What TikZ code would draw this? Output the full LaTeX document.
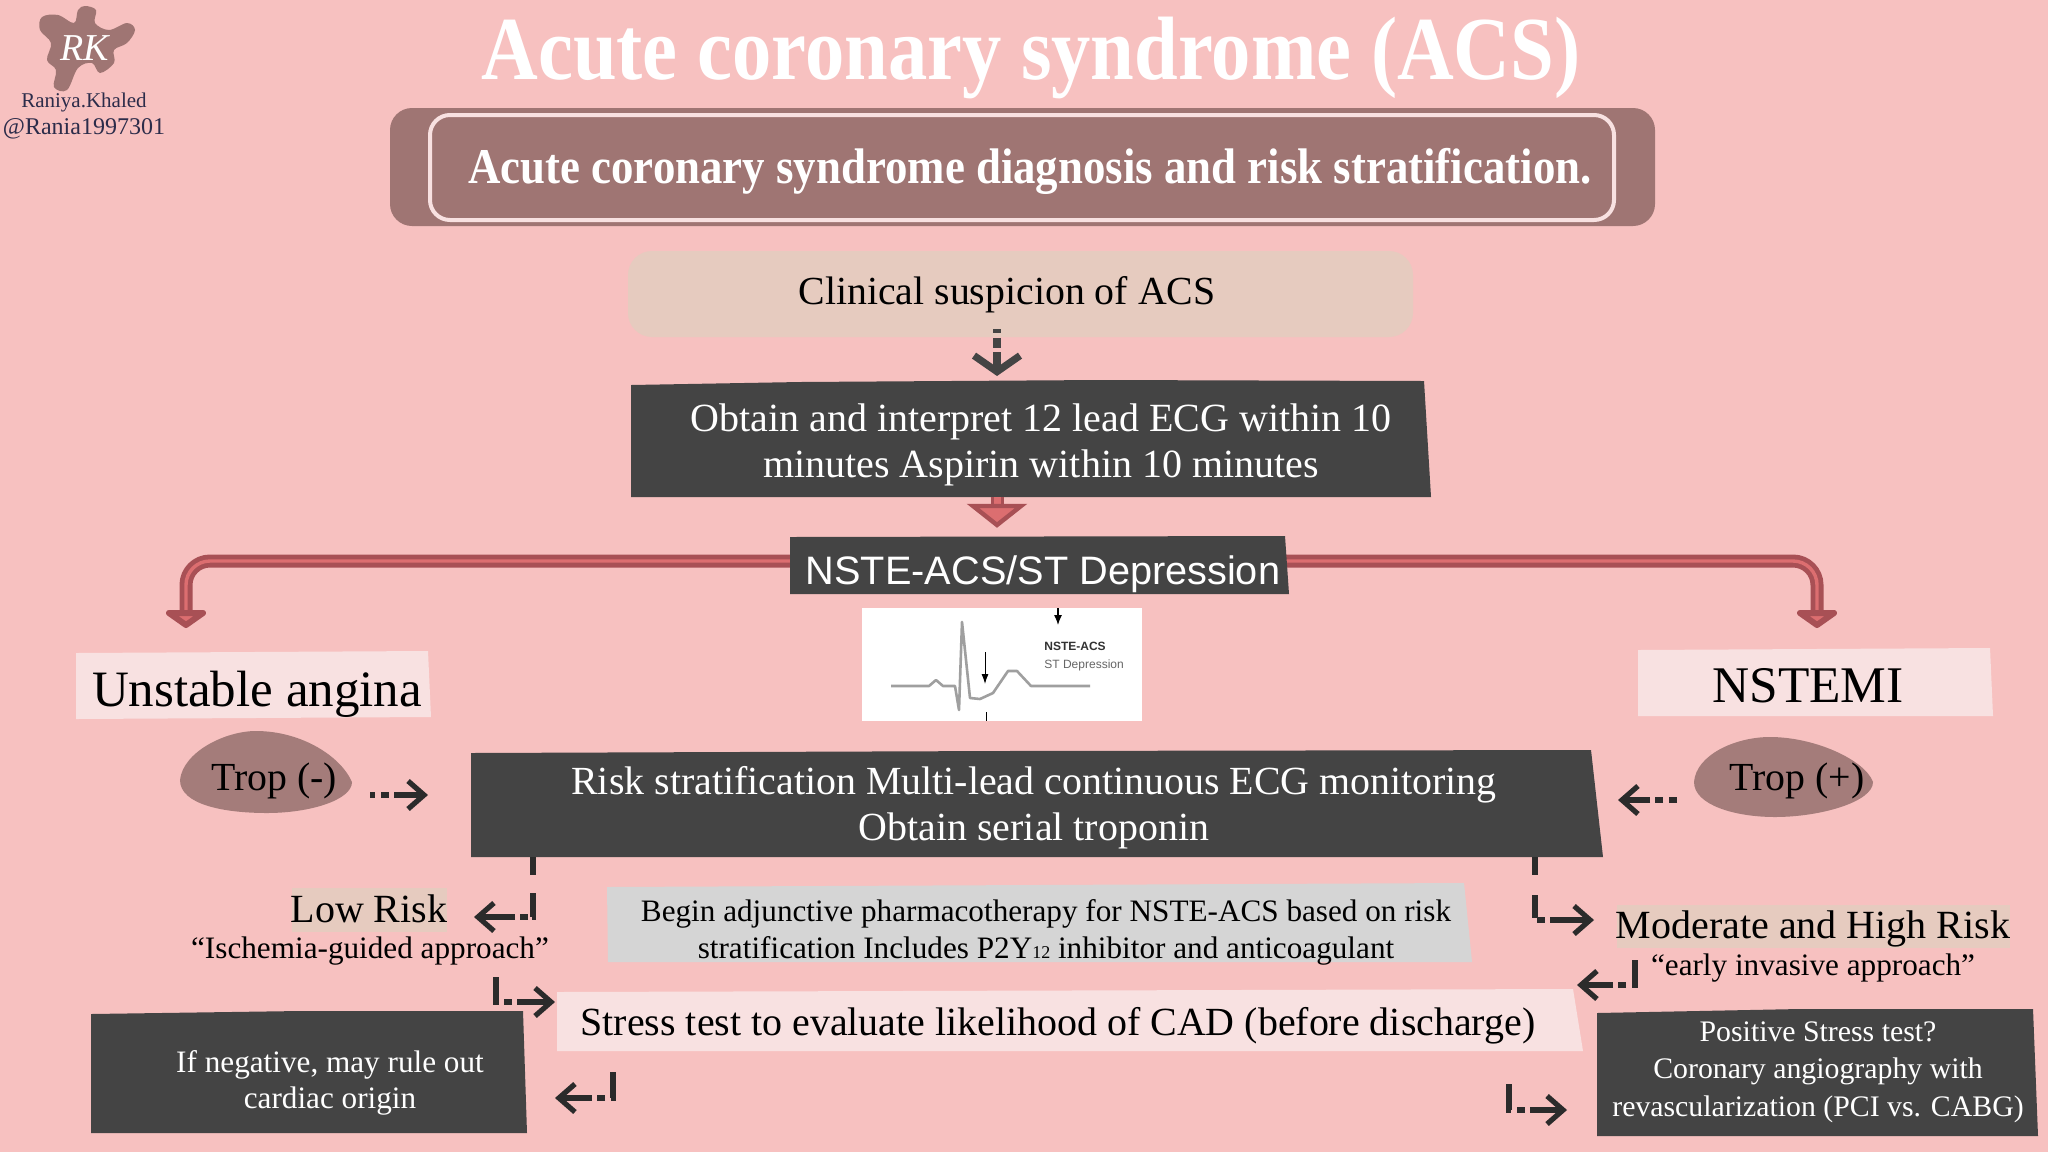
\documentclass[tikz,border=0pt]{standalone}
\usepackage{fontspec}
\setmainfont{Liberation Serif}
\newfontfamily\arialf{Liberation Sans}
\usetikzlibrary{arrows.meta}
\definecolor{bgpink}{HTML}{F7C1C0}
\definecolor{mauve}{HTML}{9F7573}
\definecolor{inkbox}{HTML}{444444}
\definecolor{paleP}{HTML}{F8E1E1}
\definecolor{sand}{HTML}{E6CBBF}
\definecolor{ashbox}{HTML}{D5D5D5}
\definecolor{inkline}{HTML}{2B2B2B}
\definecolor{redout}{HTML}{A85055}
\definecolor{redin}{HTML}{DC6E70}
\definecolor{navytext}{HTML}{2C2C4A}
\newcommand{\fs}[2]{\fontsize{#1pt}{#2pt}\selectfont}
\tikzset{
  x=0.5pt,y=-0.5pt,
  txt/.style={inner sep=0pt,align=center,text=black},
  wtxt/.style={inner sep=0pt,align=center,text=white},
  conn/.style={draw=inkline,line width=2.6pt,line join=miter,
    -{Straight Barb[length=8pt,width=14pt,line width=2.6pt]}},
  bigconn/.style={draw=inkbox,line width=4.4pt,
    -{Straight Barb[length=8pt,width=23pt,line width=3.6pt]}},
  rail/.style={draw=redout,line width=2.4pt,double=redin,double distance=1.7pt,rounded corners=12pt},
  redtip/.pic={\filldraw[fill=redin,draw=redout,line width=3pt,line join=round]
     (-17,-15)--(17,-15)--(0,-3)--cycle;},
  redbig/.pic={\filldraw[fill=redin,draw=redout,line width=2.2pt,line join=miter]
     (-24,-22)--(24,-22)--(0,-3)--cycle;}
}
\begin{document}
\begin{tikzpicture}
\useasboundingbox (0,0) rectangle (2048,1152);
\fill[bgpink] (0,0) rectangle (2048,1152);

% logo
\fill[mauve] plot[smooth cycle,tension=.6] coordinates {(85,6)(96,10)(95,23)(109,30)(127,23)(135,30)(127,43)(114,50)(114,63)(100,73)(92,63)(78,68)(67,90)(54,87)(56,70)(47,60)(51,43)(40,30)(42,17)(58,15)(74,23)(78,10)};
\node[inner sep=0pt,text=white,font=\fs{19}{19}\itshape] (rk) at (85,48) {RK};
\node[inner sep=0pt,text=navytext,align=center] (author) at (84,115.5) {\fs{10.5}{13}Raniya.Khaled\\[1.5pt]\fs{12}{14}@Rania1997301};

% title
\node[inner sep=0pt,text=white,font=\fs{45}{45}\bfseries] (title) at (1031,58) {\scalebox{.873}[1]{Acute coronary syndrome (ACS)}};

% banner
\fill[mauve,rounded corners=11pt] (390,108) rectangle (1655,226);
\draw[draw=paleP,line width=2pt,rounded corners=10pt] (430,115) rectangle (1614,220);
\node[inner sep=0pt,text=white,font=\fs{25}{25}\bfseries] (sub) at (1030,171) {\scalebox{.897}[1]{Acute coronary syndrome diagnosis and risk stratification.}};

% clinical suspicion
\fill[sand,rounded corners=12pt] (628,251) rectangle (1413,337);
\node[txt,font=\fs{19.9}{22}] (clin) at (1007,295) {Clinical suspicion of ACS};

% ECG box
\fill[inkbox] (631,385)--(800,382)--(1100,380)--(1424,381)--(1431,497)--(631,497)--cycle;
\node[wtxt,font=\fs{20}{23}] (ecg) at (1041,445) {Obtain and interpret 12 lead ECG within 10\\minutes Aspirin within 10 minutes};

% rails
\coordinate (uaIn) at (186,628);
\coordinate (nsIn) at (1817,628);
\draw[rail] (800,561) -- (186,561) -- (186,612);
\draw[rail] (1280,561) -- (1817,561) -- (1817,612);
\pic at (uaIn) {redtip};
\pic at (nsIn) {redtip};

% red arrow down
\fill[redin] (992,497) rectangle (1002,506);
\draw[redout,line width=1.5pt] (992,497)--(992,504) (1002,497)--(1002,504);
\coordinate (nsteIn) at (997,528);
\pic at (nsteIn) {redbig};

\fill[inkbox] (790,537)--(1285,536)--(1289,594)--(790,594)--cycle;
\node[inner sep=0pt,text=white,font=\arialf\fs{19.85}{24}] (nste) at (1043,574) {NSTE-ACS/ST Depression};

% ECG image
\fill[white] (862,608) rectangle (1142,721);
\draw[gray!75,line width=1.3pt,line join=round] (891,686)--(929,686)--(936,680)--(943,686)--(955,686)--(959,710)--(962,622)--(970,698)--(980,699)--(993,693)--(1008,671)--(1017,671)--(1031,686)--(1090,686);
\draw[black,line width=.5pt,-{Latex[length=5pt,width=3.5pt]}] (985,652)--(985,684);
\draw[black,line width=.5pt] (986,712)--(986,721);
\draw[black,line width=.6pt,-{Latex[length=5pt,width=4pt]}] (1058,608)--(1058,625);
\node[inner sep=0pt,anchor=west,text=black!80,font=\arialf\fs{6}{7}\bfseries] (stlab1) at (1044,646) {NSTE-ACS};
\node[inner sep=0pt,anchor=west,text=black!60,font=\arialf\fs{6}{7}] (stlab2) at (1044,665) {ST Depression};

% side labels
\fill[paleP] (76,653)--(428,651)--(431,717)--(76,719)--cycle;
\node[txt,font=\fs{25.5}{28}] (ua) at (257,694) {Unstable angina};
\fill[paleP] (1638,650)--(1990,648)--(1993,716)--(1638,716)--cycle;
\node[txt,font=\fs{25.7}{28}] (nstemi) at (1808,686) {NSTEMI};

% trop blobs
\fill[mauve!95!white] (180,780) .. controls (183,752) and (225,731) .. (256,731)
  .. controls (300,731) and (340,755) .. (352,782)
  .. controls (352,800) and (310,813) .. (267,813)
  .. controls (225,813) and (180,805) .. (180,780) -- cycle;
\node[txt,font=\fs{19.9}{22}] (tropm) at (274,781) {Trop (-)};
\fill[mauve!95!white] (1694,782) .. controls (1696,755) and (1735,737) .. (1770,737)
  .. controls (1815,737) and (1865,760) .. (1873,782)
  .. controls (1873,802) and (1820,817) .. (1775,817)
  .. controls (1735,817) and (1694,805) .. (1694,782) -- cycle;
\node[txt,font=\fs{19.9}{22}] (tropp) at (1797,781) {Trop (+)};

% risk box
\fill[inkbox] (471,753)--(1000,751)--(1591,750)--(1603,857)--(471,857)--cycle;
\node[wtxt,font=\fs{19.95}{23},minimum height=52pt] (risk) at (1034,808) {Risk stratification Multi-lead continuous ECG monitoring\\Obtain serial troponin};

% gray box
\fill[ashbox] (607,887)--(1464,883)--(1472,962)--(608,962)--cycle;
\node[txt,font=\fs{15.6}{18.5}] (adj) at (1046,932) {Begin adjunctive pharmacotherapy for NSTE-ACS based on risk\\stratification Includes P2Y{\fs{9}{9}12} inhibitor and anticoagulant};

% low risk
\fill[sand] (292,888) rectangle (447,932);
\node[txt,font=\fs{20}{22}] (low) at (369,909) {Low Risk};
\node[txt,font=\fs{15.6}{18}] (ischem) at (370,951) {“Ischemia-guided approach”};

% moderate
\fill[sand] (1617,905) rectangle (2010,948);
\node[txt,font=\fs{20}{22}] (mod) at (1813,929) {Moderate and High Risk};
\node[txt,font=\fs{15.6}{18}] (early) at (1813,968) {“early invasive approach”};

% stress
\fill[paleP] (557,992)--(1573,989)--(1583,1051)--(557,1051)--cycle;
\node[txt,font=\fs{19.96}{22}] (stress) at (1058,1026) {Stress test to evaluate likelihood of CAD (before discharge)};

% left result
\fill[inkbox] (91,1014)--(300,1011)--(523,1011)--(527,1133)--(91,1133)--cycle;
\node[wtxt,font=\fs{15.6}{18}] (neg) at (330,1083) {If negative, may rule out\\cardiac origin};

% right result
\fill[inkbox] (1597,1013)--(1800,1009)--(2033,1009)--(2038,1136)--(1597,1136)--cycle;
\node[wtxt,font=\fs{14.9}{18.7}] (pos) at (1818,1072) {Positive Stress test?\\Coronary angiography with\\revascularization (PCI vs. CABG)};

% connector ends
\coordinate (a1s) at (997,329);   \coordinate (a1e) at (997,376);
\coordinate (tms) at (370,795);   \coordinate (tme) at (428,795);
\coordinate (tps) at (1677,800);  \coordinate (tpe) at (1618,800);
\coordinate (lowe) at (474,917);
\coordinate (mode) at (1594,920);
\coordinate (ss1) at (496,977);   \coordinate (se1) at (555,1002);
\coordinate (ss2) at (1635,960);  \coordinate (se2) at (1577,985);
\coordinate (ns1) at (613,1072);  \coordinate (ne1) at (555,1098);
\coordinate (ps1) at (1509,1084); \coordinate (pe1) at (1567,1110);

% connectors
\draw[bigconn,dash pattern=on 2.2pt off 2.4pt on 5pt off 2pt on 30pt] (a1s) -- (a1e);
\draw[conn,dash pattern=on 2.5pt off 3pt on 4pt off 2.5pt on 20pt] (tms) -- (tme);
\draw[conn,dash pattern=on 4pt off 3pt on 4pt off 2.5pt on 20pt] (tps) -- (tpe);
\draw[conn,dash pattern=on 9pt off 9pt on 12.5pt off 2pt on 4pt off 2.5pt on 30pt] (533,0 |- 0,857) |- (lowe);
\draw[conn,dash pattern=on 9pt off 10pt on 11.5pt off 2pt on 4pt off 2.5pt on 30pt] (1535,0 |- 0,857) |- (mode);
\draw[conn,dash pattern=on 14pt off 2.5pt on 4pt off 2.5pt on 30pt] (ss1) |- (se1);
\draw[conn,dash pattern=on 14pt off 3pt on 4pt off 2.5pt on 30pt] (ss2) |- (se2);
\draw[conn,dash pattern=on 14pt off 3pt on 4pt off 2.5pt on 30pt] (ns1) |- (ne1);
\draw[conn,dash pattern=on 14pt off 3pt on 4pt off 2.5pt on 30pt] (ps1) |- (pe1);
\end{tikzpicture}
\end{document}
